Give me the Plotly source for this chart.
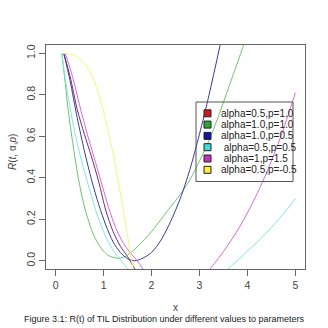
import plotly.graph_objects as go

# ---- data ----
red_x = [0.17, 0.3, 0.45, 0.6, 0.75, 0.9, 1.05, 1.2, 1.35, 1.5, 1.6, 1.7]
red_y = [1.0, 0.89, 0.73, 0.61, 0.5, 0.38, 0.24, 0.14, 0.07, 0.02, -0.02, -0.06]

green_x = [0.13, 0.2, 0.25, 0.3, 0.35, 0.45, 0.55, 0.65, 0.8, 0.95, 1.1, 1.3, 1.45, 1.6, 1.8,
           2.0, 2.2, 2.4, 2.6, 2.8, 3.0, 3.2, 3.4, 3.6, 3.8, 3.95]
green_y = [1.0, 0.86, 0.75, 0.66, 0.58, 0.43, 0.31, 0.22, 0.12, 0.06, 0.025, 0.012, 0.02, 0.045, 0.09,
           0.14, 0.2, 0.26, 0.32, 0.39, 0.48, 0.58, 0.7, 0.83, 0.96, 1.06]

blue_x = [0.17, 0.3, 0.45, 0.6, 0.75, 0.9, 1.05, 1.2, 1.35, 1.5, 1.65, 1.8, 2.0, 2.2, 2.4,
          2.6, 2.8, 3.0, 3.2, 3.45]
blue_y = [1.0, 0.87, 0.69, 0.53, 0.39, 0.27, 0.17, 0.09, 0.04, 0.01, 0.0, 0.01, 0.04, 0.1, 0.19,
          0.3, 0.44, 0.61, 0.8, 1.06]

cyan_x1 = [0.13, 0.2, 0.3, 0.4, 0.5, 0.6, 0.7, 0.8, 0.9, 1.0, 1.1, 1.2, 1.3, 1.4, 1.5, 1.55]
cyan_y1 = [1.0, 0.88, 0.74, 0.62, 0.52, 0.43, 0.35, 0.27, 0.2, 0.14, 0.09, 0.05, 0.02, -0.01, -0.04, -0.06]
cyan_x2 = [3.52, 3.6, 3.9, 4.2, 4.5, 4.8, 5.0]
cyan_y2 = [-0.058, -0.04, 0.025, 0.09, 0.16, 0.24, 0.30]

mag_x1 = [0.2, 0.35, 0.5, 0.65, 0.8, 0.95, 1.1, 1.25, 1.4, 1.55, 1.7, 1.85]
mag_y1 = [1.0, 0.89, 0.75, 0.62, 0.5, 0.38, 0.26, 0.16, 0.09, 0.04, 0.0, -0.05]
mag_x2 = [3.16, 3.22, 3.5, 3.8, 4.1, 4.4, 4.7, 5.0]
mag_y2 = [-0.058, -0.04, 0.044, 0.149, 0.275, 0.425, 0.602, 0.809]

yel_x = [0.15, 0.4, 0.6, 0.75, 0.9, 1.0, 1.1, 1.2, 1.3, 1.4, 1.5, 1.6, 1.65]
yel_y = [1.0, 0.99, 0.95, 0.9, 0.8, 0.72, 0.62, 0.52, 0.39, 0.26, 0.12, -0.02, -0.06]

legend_labels = ["alpha=0.5,p=1.0", "alpha=1.0,p=1.0", "alpha=1.0,p=0.5",
                 " alpha=0.5,p=0.5", " alpha=1,p=1.5", "alpha=0.5,p=-0.5"]
legend_fill = ["#CC1A1A", "#2EA82E", "#1414A8", "#3FDCDC", "#C62EC6", "#FFEE3A"]

xticks = [0, 1, 2, 3, 4, 5]
yticks = [0.0, 0.2, 0.4, 0.6, 0.8, 1.0]
ytick_text = ["0.0", "0.2", "0.4", "0.6", "0.8", "1.0"]

line_col = {"red": "#7A2A6A", "green": "#6CC46C", "blue": "#3A3A9A",
            "cyan": "#80E6E6", "mag": "#D868D8", "yel": "#F8F47A"}

FONT = "Liberation Sans, Arial, sans-serif"

fig = go.Figure()

def add(x, y, c):
    fig.add_trace(go.Scatter(x=x, y=y, mode="lines", line=dict(color=c, width=1, shape="spline", smoothing=0.8),
                             showlegend=False, hoverinfo="skip"))

add(red_x, red_y, line_col["red"])
add(green_x, green_y, line_col["green"])
add(blue_x, blue_y, line_col["blue"])
add(cyan_x1, cyan_y1, line_col["cyan"])
add(cyan_x2, cyan_y2, line_col["cyan"])
add(mag_x1, mag_y1, line_col["mag"])
add(mag_x2, mag_y2, line_col["mag"])
add(yel_x, yel_y, line_col["yel"])

# plot area in pixels
L, R, T, B = 46, 305, 45, 269
W, H = R - L, B - T

def px(xp):
    return (xp - L) / W

def py(yp):
    return (B - yp) / H

shapes = []
annotations = []
# legend box
shapes.append(dict(type="rect", xref="paper", yref="paper", x0=px(196), x1=px(293), y0=py(181.5), y1=py(102),
                   line=dict(color="#555555", width=1), fillcolor="rgba(0,0,0,0)"))
rows = [113.3, 124.6, 135.9, 147.2, 158.5, 169.8]
for i, (lab, fc) in enumerate(zip(legend_labels, legend_fill)):
    yc = rows[i]
    shapes.append(dict(type="rect", xref="paper", yref="paper", x0=px(204), x1=px(211), y0=py(yc + 3.5), y1=py(yc - 3.5),
                       line=dict(color="#222222", width=1), fillcolor=fc))
    annotations.append(dict(xref="paper", yref="paper", x=px(219), y=py(yc), xanchor="left", yanchor="middle",
                            text=lab.replace(" ", "&nbsp;"), showarrow=False, font=dict(family=FONT, size=10, color="#222222")))

# axis title x and caption
annotations.append(dict(xref="paper", yref="paper", x=px(175), y=py(307), xanchor="center", yanchor="middle",
                        text="x", showarrow=False, font=dict(family=FONT, size=10, color="#444444")))
annotations.append(dict(xref="paper", yref="paper", x=px(164), y=py(319), xanchor="center", yanchor="middle",
                        text="Figure 3.1: R(t) of TIL Distribution under different values to parameters",
                        showarrow=False, font=dict(family=FONT, size=9, color="#222222")))
# y title
annotations.append(dict(xref="paper", yref="paper", x=px(12), y=py(152), xanchor="center", yanchor="middle",
                        text="<i>R</i>(<i>t</i>, α,<i>p</i>)", textangle=-90, showarrow=False,
                        font=dict(family=FONT, size=10, color="#444444")))

fig.update_layout(
    width=328, height=328,
    margin=dict(l=L, r=328 - R, t=T, b=328 - B),
    paper_bgcolor="white", plot_bgcolor="white",
    shapes=shapes, annotations=annotations,
    showlegend=False,
    xaxis=dict(range=[-0.2, 5.2], tickvals=xticks, ticktext=[str(v) for v in xticks],
               showgrid=False, zeroline=False, showline=True, mirror=True, linecolor="#666666", linewidth=1,
               ticks="outside", ticklen=6, tickcolor="#666666",
               tickfont=dict(family=FONT, size=10.5, color="#444444")),
    yaxis=dict(range=[-0.04, 1.04], tickvals=yticks, ticktext=ytick_text, tickangle=-90,
               showgrid=False, zeroline=False, showline=True, mirror=True, linecolor="#666666", linewidth=1,
               ticks="outside", ticklen=6, tickcolor="#666666",
               tickfont=dict(family=FONT, size=10.5, color="#444444")),
)

fig.write_html("out.html")
